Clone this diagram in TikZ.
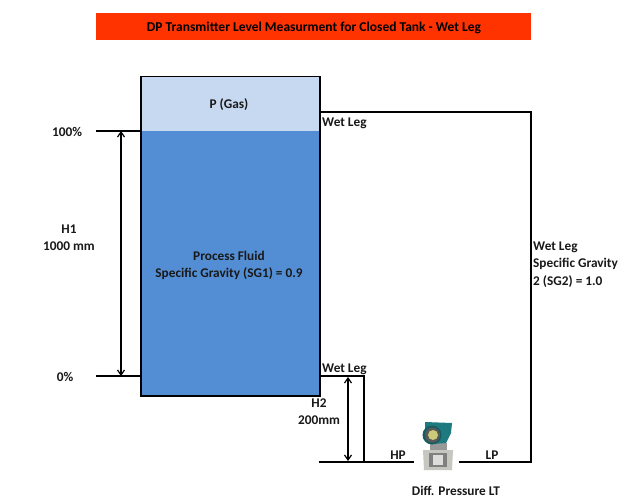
\documentclass[tikz,border=0pt]{standalone}
\usepackage{fontspec}
\usetikzlibrary{arrows.meta}
\setmainfont{Carlito}
\definecolor{gasc}{HTML}{C6D9F1}
\definecolor{fluidc}{HTML}{538ED5}
\definecolor{titlec}{HTML}{FF3300}
\definecolor{headc}{HTML}{1F7A80}
\definecolor{bodyc}{HTML}{B4B4AE}
\tikzset{
 lbl/.style={font=\bfseries\fontsize{13.3}{17.3}\selectfont,text=black!90,inner sep=0pt,align=center},
 pipe/.style={draw=black,line width=1.5pt},
 dim/.style={draw=black,line width=1.2pt,{Straight Barb[length=5pt,width=7pt]}-{Straight Barb[length=5pt,width=7pt]}}
}
\begin{document}
\begin{tikzpicture}[x=1pt,y=-1pt]
\useasboundingbox (0,0) rectangle (640,503);
\fill[white] (0,0) rectangle (640,503);
\fill[titlec] (96,13) rectangle (531,40);
\node[inner sep=0pt,font=\bfseries\fontsize{13.5}{16}\selectfont] (title) at (314,28) {DP Transmitter Level Measurment for Closed Tank - Wet Leg};
% tank
\fill[gasc] (140,76) rectangle (319,131);
\fill[fluidc] (140,131) rectangle (319,395);
\node[draw=black,line width=1.5pt,minimum width=179pt,minimum height=319pt,inner sep=0pt,anchor=north west] (tank) at (140,76) {};
\node[lbl] (gas) at (229,104.5) {P (Gas)};
\node[lbl] (fluid) at (229,265.5) {Process Fluid\\Specific Gravity (SG1) = 0.9};
% coordinates
\coordinate (l100a) at (96,131); \coordinate (l100b) at (140,131);
\coordinate (l0a) at (96,376); \coordinate (l0b) at (140,376);
\coordinate (d1a) at (121,131); \coordinate (d1b) at (121,376);
\coordinate (top) at (319,112); \coordinate (topr) at (531,112); \coordinate (botr) at (531,462);
\coordinate (lpend) at (459,462);
\coordinate (wl) at (319,376); \coordinate (wlr) at (364,376); \coordinate (wlb) at (364,462);
\coordinate (hpa) at (319,462); \coordinate (hpb) at (414,462);
\coordinate (d2a) at (348,377); \coordinate (d2b) at (348,461);
\draw[pipe] (l100a) -- (l100b);
\draw[pipe] (l0a) -- (l0b);
\draw[dim] (d1a) -- (d1b);
\draw[pipe] (top) -- (topr) -- (botr) -- (lpend);
\draw[pipe] (wl) -- (wlr) -- (wlb);
\draw[pipe] (hpa) -- (hpb);
\draw[dim] (d2a) -- (d2b);
% labels
\node[lbl] (p100) at (67,131.5) {100\%};
\node[lbl] (p0) at (65,376.5) {0\%};
\node[lbl] (h1) at (69,237.5) {H1\\1000 mm};
\node[lbl,anchor=west] (wl1) at (322,123.5) {Wet Leg};
\node[lbl,anchor=west] (wl2) at (322,369.5) {Wet Leg};
\node[lbl,anchor=west,align=left] (wl3) at (533,264.5) {Wet Leg\\Specific Gravity\\2 (SG2) = 1.0};
\node[lbl] (h2) at (319,412) {H2\\200mm};
\node[lbl] (hp) at (398,455) {HP};
\node[lbl] (lp) at (492,455) {LP};
\node[lbl] (lt) at (456,490.5) {Diff. Pressure LT};
% transmitter
\fill[black!40] (430,443) rectangle (447,451);
\fill[bodyc!75] (423,450) -- (453,450) -- (452,470) -- (424,470) -- cycle;
\fill[black!50] (429,453) rectangle (447,467);
\fill[bodyc!45] (433,455) rectangle (443,465);
\fill[headc] (425,422) -- (452,423) -- (451,433) -- (446,443) -- (432,444) -- (425,433) -- cycle;
\fill[headc!75!black] (432,435) circle[radius=9.5pt];
\fill[black!65] (432.5,435) circle[radius=7.5pt];
\fill[bodyc!70!yellow] (433,435) circle[radius=5pt];
\end{tikzpicture}
\end{document}
